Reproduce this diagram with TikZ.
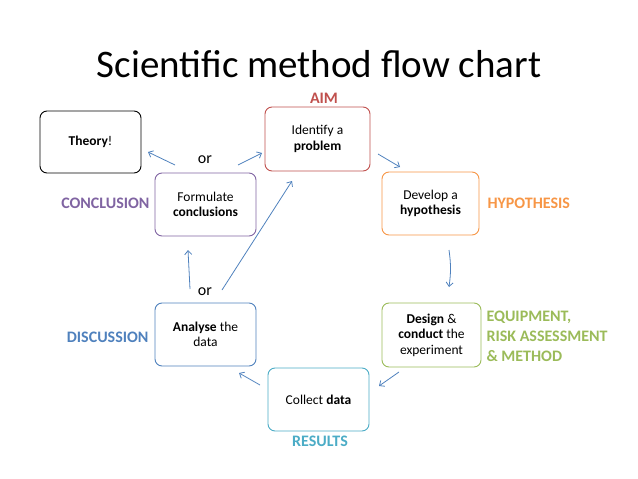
\documentclass[tikz,border=0pt]{standalone}
\usepackage{fontspec}
\setmainfont{Carlito}
\usetikzlibrary{arrows.meta}
\definecolor{cred}{HTML}{C0504D}\definecolor{corange}{HTML}{F79646}
\definecolor{cgreen}{HTML}{9BBB59}\definecolor{cteal}{HTML}{4BACC6}
\definecolor{cblue}{HTML}{4F81BD}\definecolor{cpurple}{HTML}{8064A2}
\tikzset{box/.style={draw=#1,line width=0.9pt,rounded corners=7pt,minimum width=100pt,minimum height=63pt,align=center,font=\fontsize{13.5}{15.5}\selectfont,fill=white,inner sep=1pt},
lab/.style={font=\fontsize{16}{18}\selectfont\bfseries,text=#1},
arr/.style={draw=cblue,line width=0.8pt,-{Straight Barb[length=4pt,width=7pt]}}}
\begin{document}
\begin{tikzpicture}[x=1pt,y=-1pt]
\useasboundingbox (0,0) rectangle (638,479);
\node[font=\fontsize{39}{44}\selectfont] (title) at (319,64) {Scientific method flow chart};
\node[box=black,minimum width=101pt,minimum height=62pt] (th) at (90.5,142) {\textbf{Theory}!};
\node[box=cred,minimum width=105pt,minimum height=64pt] (id) at (317.5,139) {Identify a\\\textbf{problem}};
\node[box=corange,minimum width=97pt] (dev) at (430.5,203.5) {Develop a\\\textbf{hypothesis}};
\node[box=cgreen,minimum width=99pt,minimum height=64pt] (des) at (431.5,335) {\textbf{Design} \&\\\textbf{conduct} the\\experiment};
\node[box=cteal,minimum width=101pt] (col) at (318.5,399.5) {Collect \textbf{data}};
\node[box=cblue,minimum width=101pt] (an) at (205.5,334.5) {\textbf{Analyse} the\\data};
\node[box=cpurple,minimum width=101pt] (fo) at (205.5,204.5) {Formulate\\\textbf{conclusions}};
\node[lab=cred] (aim) at (324,98) {AIM};
\node[lab=corange,anchor=west] (hyp) at (484,203) {HYPOTHESIS};
\node[lab=cgreen,anchor=west,align=left,font=\fontsize{16}{20}\selectfont\bfseries] (eq) at (483,336) {EQUIPMENT,\\RISK ASSESSMENT\\\& METHOD};
\node[lab=cteal] (res) at (320,441) {RESULTS};
\node[lab=cblue,anchor=east] (dis) at (152,337) {DISCUSSION};
\node[lab=cpurple,anchor=east] (con) at (153,203) {CONCLUSION};
\node[font=\fontsize{16}{18}\selectfont] (or1) at (205,160) {or};
\node[font=\fontsize{16}{18}\selectfont] (or2) at (205,292) {or};
\coordinate (a1s) at (175,165); \coordinate (a1e) at (148,152);
\coordinate (a2s) at (238,165); \coordinate (a2e) at (262,153);
\coordinate (a3s) at (378,154); \coordinate (a3e) at (400,167);
\coordinate (a4s) at (449,250); \coordinate (a4e) at (449,287);
\coordinate (a5s) at (399,372); \coordinate (a5e) at (379,386);
\coordinate (a6s) at (260,385); \coordinate (a6e) at (239,373);
\coordinate (a7s) at (190,289); \coordinate (a7e) at (188,250);
\coordinate (a8s) at (222,290); \coordinate (a8e) at (292,181);
\draw[arr] (a1s) -- (a1e);
\draw[arr] (a2s) -- (a2e);
\draw[arr] (a3s) -- (a3e);
\draw[arr] (a4s) to[bend left=8] (a4e);
\draw[arr] (a5s) -- (a5e);
\draw[arr] (a6s) -- (a6e);
\draw[arr] (a7s) -- (a7e);
\draw[arr] (a8s) -- (a8e);
\end{tikzpicture}
\end{document}
